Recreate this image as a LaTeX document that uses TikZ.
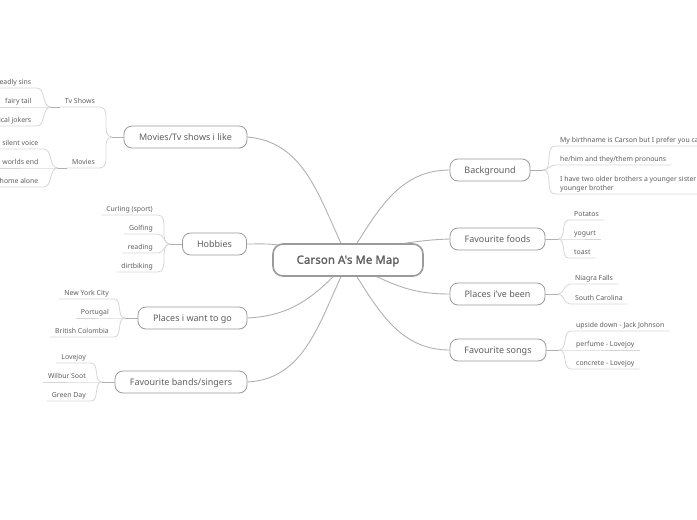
\documentclass[tikz,border=0pt]{standalone}
\usepackage{fontspec}
\setmainfont{Noto Sans}
\newfontfamily\rootfont[FakeBold=1.6, LetterSpace=1.5]{Noto Sans}
\definecolor{inkgray}{HTML}{5E5E5E}
\definecolor{edgegray}{HTML}{9A9A9A}
\definecolor{linkgray}{HTML}{B0B0B0}
\definecolor{leafgray}{HTML}{D6D6D6}
\tikzset{
	rootnode/.style = {draw = edgegray, line width = 1.6pt, rounded corners = 10pt, text = inkgray, minimum width = 150pt, minimum height = 32pt, inner sep = 0pt, text height = 8.5pt, text depth = 1pt, font = \fontsize{11.3}{12}\rootfont},
	topic/.style = {draw = edgegray, line width = 0.8pt, rounded corners = 8pt, text = inkgray, minimum height = 22pt, inner sep = 0pt, text height = 7.5pt, text depth = 1.5pt, font = \fontsize{9}{10}\selectfont},
	leaf/.style = {text = inkgray, inner xsep = 5pt, inner ysep = 2pt, text height = 5.5pt, text depth = 1.5pt, font = \fontsize{6.9}{9}\selectfont},
	leafright/.style = {leaf, anchor = south west, align = left},
	leafleft/.style = {leaf, anchor = south east},
	link/.style = {draw = linkgray, line width = 0.9pt},
	twig/.style = {draw = leafgray, line width = 0.8pt},
	stem/.style = {draw = linkgray, line width = 1pt}
}
\begin{document}
\begin{tikzpicture}[x = 1pt, y = -1pt]
	\useasboundingbox (0, 0) rectangle (697, 520);

	%	root
	\node[rootnode] (root) at (348, 260) {Carson A's Me Map};

	%	topics right
	\node[topic, minimum width = 80pt] (background) at (490, 170) {Background};
	\node[topic, minimum width = 95pt] (foods) at (497.5, 239) {Favourite foods};
	\node[topic, minimum width = 95pt] (been) at (497.5, 294) {Places i've been};
	\node[topic, minimum width = 96pt] (songs) at (498, 350) {Favourite songs};

	%	topics left
	\node[topic, minimum width = 123pt] (movies) at (185.5, 137) {Movies/Tv shows i like};
	\node[topic, minimum width = 64pt] (hobbies) at (214.5, 244) {Hobbies};
	\node[topic, minimum width = 109pt] (want) at (192.5, 318) {Places i want to go};
	\node[topic, minimum width = 132pt] (bands) at (181, 382) {Favourite bands/singers};

	%	root to topics
	\draw[link] ([xshift = 9pt]root.north) to[out = 58, in = 180] (background.west);
	\draw[link] ([xshift = 57pt]root.north) to[out = 8, in = 182] (foods.west);
	\draw[link] ([xshift = 29pt]root.south) to[out = -25, in = 180] (been.west);
	\draw[link] ([xshift = 9pt]root.south) to[out = -58, in = 180] (songs.west);
	\draw[link] ([xshift = -7pt]root.north) to[out = 115, in = -5] (movies.east);
	\draw[link] ([xshift = -68pt]root.north) ++(0, 2) to[out = 172, in = 0] (hobbies.east);
	\draw[link] ([xshift = -15pt]root.south) to[out = -135, in = 3] (want.east);
	\draw[link] ([xshift = -7pt]root.south) to[out = -115, in = 3] (bands.east);

	%	joints
	\coordinate (joinbackground) at (543, 170);
	\coordinate (joinfoods) at (558, 239);
	\coordinate (joinbeen) at (558, 294);
	\coordinate (joinsongs) at (559, 350);
	\coordinate (joinmovies) at (112, 137);
	\coordinate (joinhobbies) at (170, 244);
	\coordinate (joinwant) at (125, 318);
	\coordinate (joinbands) at (102, 382);
	\coordinate (jointv) at (51, 107);
	\coordinate (joinfilm) at (58, 168);

	\foreach \t/\j in {background.east/joinbackground, foods.east/joinfoods, been.east/joinbeen, songs.east/joinsongs, movies.west/joinmovies, hobbies.west/joinhobbies, want.west/joinwant, bands.west/joinbands}
		\draw[stem] (\t) -- (\j);

	%	leaves right
	\foreach \n/\txt/\y in {l1/{My birthname is Carson but I prefer you ca}/146, l2/{he/him and they/them pronouns}/165, l3/{I have two older brothers a younger sister\\younger brother}/194}{
		\node[leafright] (\n) at (555, \y) {\txt};
		\draw[twig] (joinbackground) to[out = 0, in = 180] (\n.south west) -- (\n.south east);
	}
	\foreach \n/\txt/\y in {f1/Potatos/220, f2/yogurt/239, f3/toast/258}{
		\node[leafright] (\n) at (569, \y) {\txt};
		\draw[twig] (joinfoods) to[out = 0, in = 180] (\n.south west) -- (\n.south east);
	}
	\foreach \n/\txt/\y in {b1/Niagra Falls/284, b2/South Carolina/304}{
		\node[leafright] (\n) at (570, \y) {\txt};
		\draw[twig] (joinbeen) to[out = 0, in = 180] (\n.south west) -- (\n.south east);
	}
	\foreach \n/\txt/\y in {s1/upside down - Jack Johnson/331, s2/perfume - Lovejoy/350, s3/concrete - Lovejoy/369}{
		\node[leafright] (\n) at (571, \y) {\txt};
		\draw[twig] (joinsongs) to[out = 0, in = 180] (\n.south west) -- (\n.south east);
	}

	%	leaves left
	\node[leafleft] (tv) at (100, 107) {Tv Shows};
	\node[leafleft] (film) at (100, 168) {Movies};
	\draw[twig] (joinmovies) to[out = 180, in = 0] (tv.south east) -- (tv.south west);
	\draw[twig] (joinmovies) to[out = 180, in = 0] (film.south east) -- (film.south west);
	\draw[stem] (tv.south west) -- (jointv);
	\draw[stem] (film.south west) -- (joinfilm);

	\foreach \n/\txt/\y in {t1/deadly sins/88, t2/fairy tail/107, t3/ical jokers/126}{
		\node[leafleft] (\n) at (36.5, \y) {\txt};
		\draw[twig] (jointv) to[out = 180, in = 0] (\n.south east) -- (\n.south west);
	}
	\foreach \n/\txt/\y in {m1/silent voice/149, m2/worlds end/168, m3/home alone/187}{
		\node[leafleft] (\n) at (43.5, \y) {\txt};
		\draw[twig] (joinfilm) to[out = 180, in = 0] (\n.south east) -- (\n.south west);
	}
	\foreach \n/\txt/\y in {h1/Curling (sport)/215, h2/Golfing/234, h3/reading/253, h4/dirtbiking/272}{
		\node[leafleft] (\n) at (158, \y) {\txt};
		\draw[twig] (joinhobbies) to[out = 180, in = 0] (\n.south east) -- (\n.south west);
	}
	\foreach \n/\txt/\y in {w1/New York City/299, w2/Portugal/318, w3/British Colombia/337}{
		\node[leafleft] (\n) at (114, \y) {\txt};
		\draw[twig] (joinwant) to[out = 180, in = 0] (\n.south east) -- (\n.south west);
	}
	\foreach \n/\txt/\y in {a1/Lovejoy/363, a2/Wilbur Soot/382, a3/Green Day/401}{
		\node[leafleft] (\n) at (91, \y) {\txt};
		\draw[twig] (joinbands) to[out = 180, in = 0] (\n.south east) -- (\n.south west);
	}
\end{tikzpicture}
\end{document}
